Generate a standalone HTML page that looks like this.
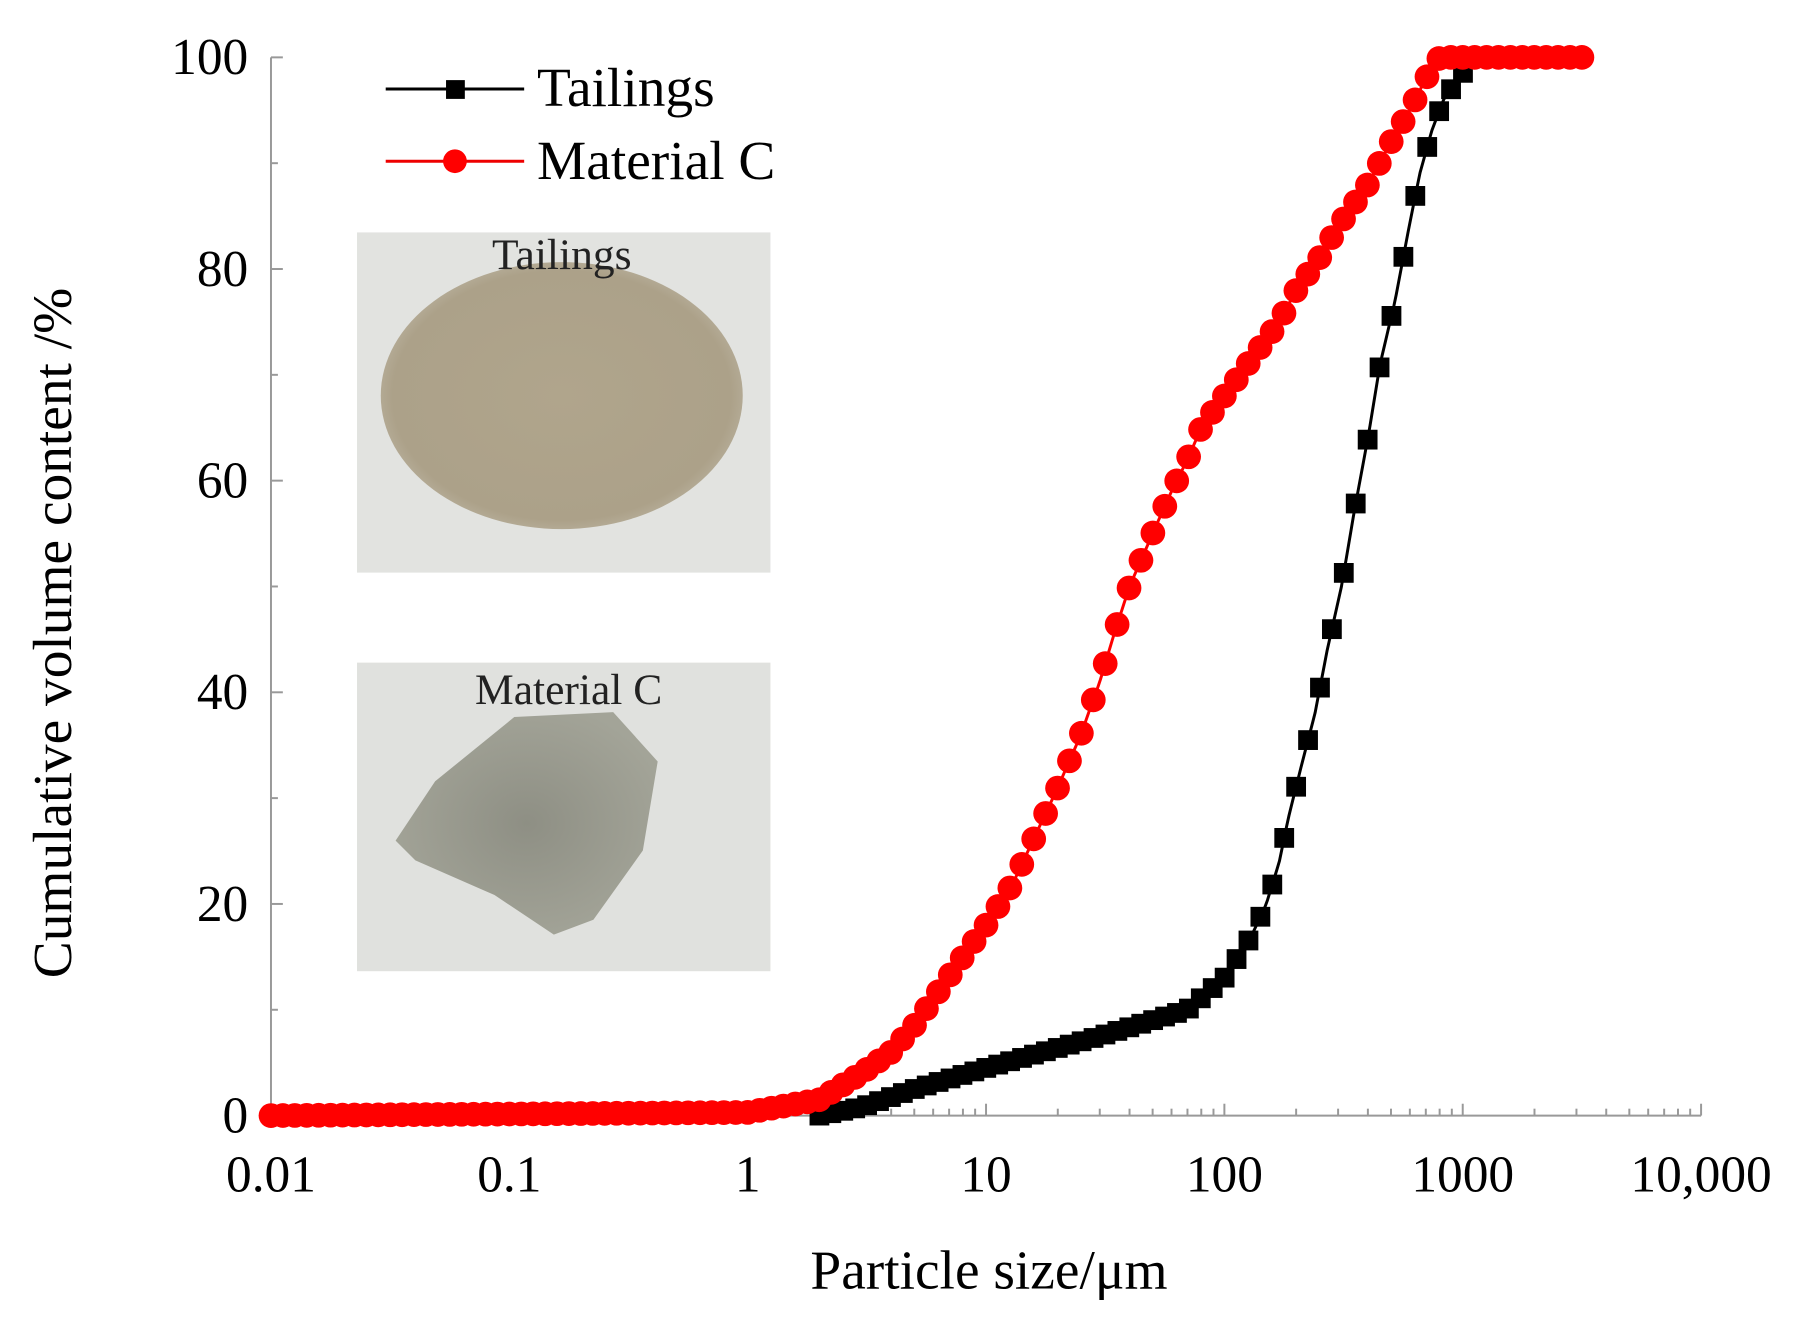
<!DOCTYPE html>
<html><head><meta charset="utf-8"><style>
html,body{margin:0;padding:0;background:#fff;}
svg{display:block;font-family:"Liberation Serif",serif;}
</style></head><body>
<svg id="s" width="1807" height="1334" viewBox="0 0 1807 1334">
<defs>
<radialGradient id="g1" cx="50%" cy="50%" r="55%"><stop offset="0" stop-color="#b0a58c"/><stop offset="0.85" stop-color="#aca189"/><stop offset="1" stop-color="#bdb6a4"/></radialGradient>
<radialGradient id="g2" cx="50%" cy="50%" r="55%"><stop offset="0" stop-color="#8e8f84"/><stop offset="1" stop-color="#a3a498"/></radialGradient>
</defs>
<g transform="scale(0.989)">
<rect x="361" y="235" width="418" height="344" fill="#e2e3e0"/>
<ellipse cx="568" cy="400" rx="183" ry="135" fill="url(#g1)"/>
<text x="568" y="272" font-size="44" text-anchor="middle" fill="#222">Tailings</text>
<rect x="361" y="670" width="418" height="312" fill="#e0e1de"/>
<path d="M520 725 L620 720 L665 770 L650 860 L600 930 L560 945 L500 905 L420 870 L400 850 L440 790 Z" fill="url(#g2)"/>
<text x="575" y="712" font-size="44" text-anchor="middle" fill="#222">Material C</text>
<g id="ax" stroke="#999" stroke-width="2" fill="none"></g>
<g id="labels" font-size="52" fill="#000"></g>
<g id="series"></g>
<text x="1000" y="1303" font-size="56" text-anchor="middle">Particle size/μm</text>
<text transform="translate(72,640) rotate(-90)" font-size="56" text-anchor="middle">Cumulative volume content /%</text>
<line x1="390" y1="90" x2="530" y2="90" stroke="#000" stroke-width="3"/>
<rect x="451" y="81" width="19" height="19" fill="#000"/>
<text x="543" y="107" font-size="56">Tailings</text>
<line x1="390" y1="163" x2="530" y2="163" stroke="#e00" stroke-width="3"/>
<circle cx="460" cy="163" r="12" fill="#f00"/>
<text x="543" y="181" font-size="56">Material C</text>
</g>
</svg>
<script>
const X0=274,DX=241,Y0=1128,Y1=58;
const px=l=>X0+(l+2)*DX, py=v=>Y0-(Y0-Y1)*v/100;
const NS="http://www.w3.org/2000/svg";
function el(p,t,a,txt){const e=document.createElementNS(NS,t);for(const k in a)e.setAttribute(k,a[k]);if(txt!=null)e.textContent=txt;p.appendChild(e);return e;}
const ax=document.getElementById('ax'),lb=document.getElementById('labels'),se=document.getElementById('series');
el(ax,'line',{x1:X0,y1:Y0,x2:X0,y2:Y1});
el(ax,'line',{x1:X0,y1:Y0,x2:1720,y2:Y0});
for(let v=0;v<=100;v+=10){el(ax,'line',{x1:X0,y1:py(v),x2:X0+(v%20==0?12:7),y2:py(v)});}
for(let v=0;v<=100;v+=20)el(lb,'text',{x:251,y:py(v)+17,'text-anchor':'end'},String(v));
for(let d=-2;d<=4;d++){el(ax,'line',{x1:px(d),y1:Y0,x2:px(d),y2:Y0-12});
 if(d<4)for(let m=2;m<10;m++){const x=px(d+Math.log10(m));el(ax,'line',{x1:x,y1:Y0,x2:x,y2:Y0-7});}}
const xl=["0.01","0.1","1","10","100","1000","10,000"];
xl.forEach((t,i)=>el(lb,'text',{x:px(i-2),y:1205,'text-anchor':'middle'},t));
function interp(pts,l){if(l<=pts[0][0])return pts[0][1];for(let i=1;i<pts.length;i++){if(l<=pts[i][0]){const a=pts[i-1],b=pts[i];return a[1]+(b[1]-a[1])*(l-a[0])/(b[0]-a[0]);}}return pts[pts.length-1][1];}
const L=Math.log10;
const red=[[-2,0],[0,0.3],[L(2),1.5],[L(3),4],[L(4),6],[L(5),8.5],[L(6),11],[L(8),15],[1,18],[L(13),22],[L(15),25],[L(20),31],[L(25),36],[L(30),41],[L(35),46],[L(40),50],[L(50),55],[L(60),59],[L(70),62],[L(80),65],[2,68],[L(130),71.5],[L(170),75],[L(200),78],[L(250),81],[L(300),84],[L(400),88],[L(500),92],[L(600),95],[L(700),98],[L(800),100],[L(3500),100]];
const blk=[[L(2),0],[L(3),0.8],[L(5),2.5],[1,4.5],[L(30),7.5],[L(70),10],[2,13],[L(130),17],[L(150),20],[L(170),24],[L(185),28],[L(210),33],[L(240),38],[L(270),44],[L(310),50],[L(350),57],[L(400),64],[L(450),71],[L(520),77],[L(590),83.5],[L(660),89],[L(740),93],[L(830),96],[3,98.5],[L(1100),100],[L(1300),100]];
function draw(pts,col,sq){let d="";const st=0.05;const a=pts[0][0],b=pts[pts.length-1][0];
 for(let l=a;l<=b+1e-9;l+=0.01){d+=(d?"L":"M")+px(l).toFixed(1)+" "+py(interp(pts,l)).toFixed(1);}
 el(se,'path',{d:d,stroke:col,'stroke-width':3,fill:'none'});
 for(let l=a;l<=b+1e-9;l+=st){const x=px(l),y=py(interp(pts,l));
  if(sq)el(se,'rect',{x:x-10,y:y-10,width:20,height:20,fill:col});else el(se,'circle',{cx:x,cy:y,r:12.5,fill:col});}}
draw(blk,'#000',true);
draw(red,'#f00',false);
</script>
</body></html>
